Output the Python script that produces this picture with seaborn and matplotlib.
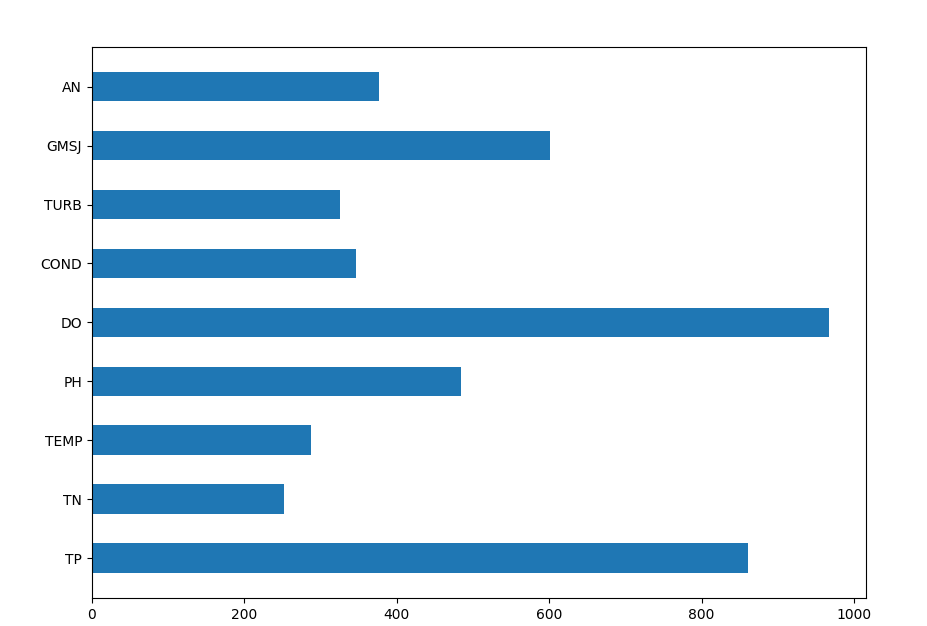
import pandas as pd
import matplotlib
matplotlib.use('Agg')
import matplotlib.pyplot as plt
import seaborn as sns

# parameters, top to bottom as shown
params = ['AN', 'GMSJ', 'TURB', 'COND', 'DO', 'PH', 'TEMP', 'TN', 'TP']
counts = [377, 601, 325, 346, 967, 484, 288, 252, 861]

df = pd.DataFrame({'param': params, 'count': counts})

fig = plt.figure(figsize=(9.28, 6.26), dpi=100)
ax = fig.add_axes([0.099, 0.045, 0.834, 0.880])

sns.barplot(data=df, x='count', y='param', order=params, orient='h',
            color='#1f77b4', saturation=1, width=0.5, ax=ax)

ax.set_xlim(0, max(counts) * 1.05)
ax.set_ylim(len(params) - 1 + 0.675, -0.675)
ax.set_xlabel('')
ax.set_ylabel('')

fig.savefig('out.png', dpi=100)
